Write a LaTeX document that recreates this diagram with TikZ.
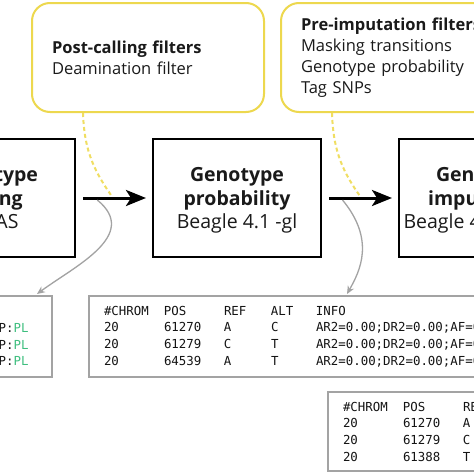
\documentclass[tikz,border=0pt]{standalone}
\usepackage{fontspec}
\setmainfont{Open Sans}
\setmonofont{DejaVu Sans Mono}
\usetikzlibrary{arrows.meta,calc}

\definecolor{filteryellow}{HTML}{EDD84E}
\definecolor{dashyellow}{HTML}{F0DE62}
\definecolor{boxgrey}{HTML}{A3A3A3}
\definecolor{plgreen}{HTML}{3DBE7E}
\definecolor{inkblack}{HTML}{1A1A1A}

\newcommand\vcfcol[2]{\makebox[#1][l]{#2}}

\tikzset{
  stage/.style={draw=black, line width=2pt, minimum width=168pt, minimum height=118pt,
    inner sep=0pt, align=center, text=inkblack, text depth=0pt,
    font=\fontsize{19.5}{23.5}\selectfont},
  filterbox/.style={draw=filteryellow, line width=2pt, rounded corners=18pt,
    minimum height=109pt, text width=192pt, inner xsep=20pt, align=left,
    text=inkblack, font=\fontsize{16.5}{21}\selectfont},
  datbox/.style={draw=boxgrey, line width=2pt, inner xsep=15pt, inner ysep=10pt,
    align=left, text=black!92, font=\ttfamily\fontsize{12.4}{16.6}\selectfont},
  flow/.style={line width=3pt, -{Stealth[length=20pt,width=16pt,inset=5pt]},
    shorten <=7pt, shorten >=6pt},
  feed/.style={dashyellow, line width=2pt, dash pattern=on 4pt off 3pt},
  outlink/.style={boxgrey, line width=1.3pt, -{Stealth[length=8pt,width=7pt]}},
}

\begin{document}
\begin{tikzpicture}[x=1pt,y=1pt]
  \useasboundingbox (0,0) rectangle (474,-474);
  \fill[white] (0,0) rectangle (474,-474);
  \clip (0,0) rectangle (474,-474);

  % pipeline steps
  \node[stage] (call) at (-9,-198) {\textbf{Genotype}\\\textbf{calling}\\ATLAS};
  \node[stage] (prob) at (237,-198) {\textbf{Genotype}\\\textbf{probability}\\Beagle 4.1 -gl};
  \node[stage] (imp) at (483,-198) {\textbf{Genotype}\\\textbf{imputation}\\Beagle 4.1 -gt -ref};

  % filters
  \node[filterbox] (postf) at (148,-57.5) {\textbf{Post-calling filters}\\Deamination filter};
  \node[filterbox, anchor=west] (pref) at (280,-57.5)
    {\textbf{Pre-imputation filters}\\Masking transitions\\Genotype probability\\Tag SNPs};

  \draw[flow] (call) -- (prob);
  \draw[flow] (prob) -- (imp);

  \coordinate (feed1) at ($(call.east)!0.46!(prob.west)+(0,3)$);
  \coordinate (feed2) at ($(prob.east)!0.49!(imp.west)+(0,3)$);
  \draw[feed] ([xshift=52pt]postf.south west) to[out=-88,in=125] (feed1);
  \draw[feed] ([xshift=52pt]pref.south west) to[out=-88,in=125] (feed2);

  % vcf snippets
  \node[datbox, anchor=north east, inner xsep=23.4pt, minimum height=81pt] (vcfpl) at (53,-295)
    {FORMAT\\GT:AD:DP:\textcolor{plgreen}{PL}\\GT:AD:DP:\textcolor{plgreen}{PL}\\GT:AD:DP:\textcolor{plgreen}{PL}};
  \node[datbox, anchor=north west] (vcfgl) at (88,-295)
    {\vcfcol{60pt}{\#CHROM}\vcfcol{60pt}{POS}\vcfcol{47pt}{REF}\vcfcol{45pt}{ALT}INFO\\
     \vcfcol{60pt}{20}\vcfcol{60pt}{61270}\vcfcol{47pt}{A}\vcfcol{45pt}{C}AR2=0.00;DR2=0.00;AF=0.00\\
     \vcfcol{60pt}{20}\vcfcol{60pt}{61279}\vcfcol{47pt}{C}\vcfcol{45pt}{T}AR2=0.00;DR2=0.00;AF=0.00\\
     \vcfcol{60pt}{20}\vcfcol{60pt}{64539}\vcfcol{47pt}{A}\vcfcol{45pt}{T}AR2=0.00;DR2=0.00;AF=0.00};
  \node[datbox, anchor=north west] (vcftag) at (327,-391)
    {\vcfcol{60pt}{\#CHROM}\vcfcol{60pt}{POS}REF\\
     \vcfcol{60pt}{20}\vcfcol{60pt}{61270}A\\
     \vcfcol{60pt}{20}\vcfcol{60pt}{61279}C\\
     \vcfcol{60pt}{20}\vcfcol{60pt}{61388}T};

  \coordinate (out1) at ($(call.east)!0.28!(prob.west)+(0,-2)$);
  \coordinate (out2) at ($(prob.east)!0.27!(imp.west)+(0,-2)$);
  \draw[outlink] (out1) .. controls +(43,-35) and +(38,28) .. ([xshift=-16pt,yshift=1pt]vcfpl.north east);
  \draw[outlink] (out2) .. controls +(33,-40) and +(13,23) .. ([xshift=259pt,yshift=1pt]vcfgl.north west);
\end{tikzpicture}
\end{document}
